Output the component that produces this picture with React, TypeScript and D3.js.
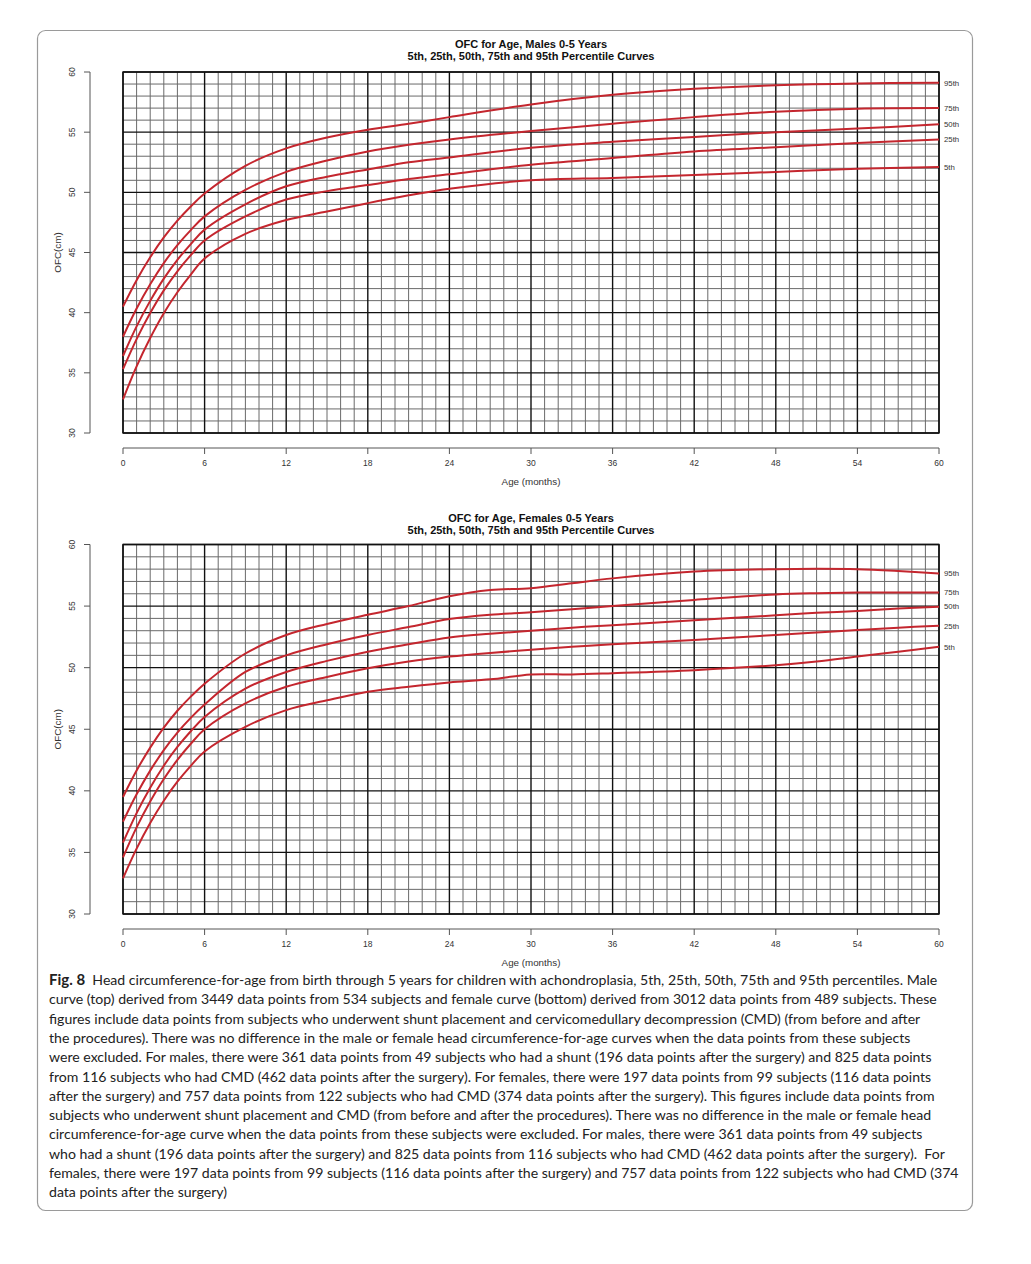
import React from "react";
import * as d3 from "d3";

// ---------- DATA ----------
const maleMonths = [0, 1, 2, 3, 4, 5, 6, 9, 12, 15, 18, 21, 24, 30, 36, 42, 48, 54, 60];
const maleP95 = [40.5, 42.7, 44.6, 46.25, 47.65, 48.85, 49.9, 52.2, 53.65, 54.55, 55.2, 55.7, 56.25, 57.3, 58.1, 58.6, 58.9, 59.05, 59.1];
const maleP75 = [38.0, 40.34, 42.36, 44.12, 45.61, 46.88, 48.0, 50.2, 51.7, 52.65, 53.4, 53.95, 54.4, 55.1, 55.7, 56.25, 56.7, 56.95, 57.0];
const maleP50 = [36.4, 38.86, 40.98, 42.83, 44.39, 45.72, 46.9, 49.0, 50.5, 51.3, 51.9, 52.5, 52.9, 53.7, 54.2, 54.6, 55.0, 55.3, 55.65];
const maleP25 = [35.3, 37.8, 39.97, 41.85, 43.44, 44.8, 46.0, 48.0, 49.4, 50.1, 50.6, 51.1, 51.5, 52.3, 52.85, 53.4, 53.75, 54.1, 54.4];
const maleP5 = [32.8, 35.54, 37.9, 39.96, 41.7, 43.19, 44.5, 46.55, 47.7, 48.4, 49.1, 49.75, 50.3, 51.0, 51.2, 51.45, 51.7, 51.95, 52.1];

const femaleMonths = [0, 1, 2, 3, 4, 5, 6, 9, 12, 15, 18, 21, 24, 27, 30, 33, 36, 42, 48, 51, 54, 57, 60];
const femaleP95 = [39.5, 41.65, 43.51, 45.13, 46.5, 47.67, 48.7, 51.15, 52.65, 53.55, 54.3, 55.0, 55.8, 56.3, 56.45, 56.85, 57.25, 57.8, 58.0, 58.03, 58.0, 57.85, 57.65];
const femaleP75 = [37.5, 39.72, 41.64, 43.31, 44.73, 45.94, 47.0, 49.65, 51.0, 51.9, 52.65, 53.3, 53.95, 54.3, 54.5, 54.75, 55.0, 55.5, 55.95, 56.05, 56.1, 56.1, 56.1];
const femaleP50 = [35.8, 38.19, 40.25, 42.04, 43.56, 44.86, 46.0, 48.3, 49.65, 50.55, 51.3, 51.9, 52.45, 52.75, 53.0, 53.25, 53.45, 53.85, 54.25, 54.45, 54.6, 54.8, 54.95];
const femaleP25 = [34.6, 37.03, 39.13, 40.96, 42.51, 43.84, 45.0, 47.1, 48.45, 49.25, 49.95, 50.5, 50.9, 51.2, 51.45, 51.7, 51.9, 52.25, 52.65, 52.85, 53.05, 53.25, 53.4];
const femaleP5 = [32.9, 35.31, 37.39, 39.2, 40.74, 42.05, 43.2, 45.2, 46.55, 47.35, 48.05, 48.45, 48.8, 49.05, 49.45, 49.45, 49.55, 49.8, 50.2, 50.5, 50.9, 51.3, 51.7];

const percentileLabels = ["95th", "75th", "50th", "25th", "5th"];
const xTicks = [0, 6, 12, 18, 24, 30, 36, 42, 48, 54, 60];
const yTicks = [30, 35, 40, 45, 50, 55, 60];

const maleTitle = ["OFC for Age, Males 0-5 Years", "5th, 25th, 50th, 75th and 95th Percentile Curves"];
const femaleTitle = ["OFC for Age, Females 0-5 Years", "5th, 25th, 50th, 75th and 95th Percentile Curves"];
const xAxisTitle = "Age (months)";
const yAxisTitle = "OFC(cm)";

const captionLines = [
  "Head circumference-for-age from birth through 5 years for children with achondroplasia, 5th, 25th, 50th, 75th and 95th percentiles. Male",
  "curve (top) derived from 3449 data points from 534 subjects and female curve (bottom) derived from 3012 data points from 489 subjects. These",
  "figures include data points from subjects who underwent shunt placement and cervicomedullary decompression (CMD) (from before and after",
  "the procedures). There was no difference in the male or female head circumference-for-age curves when the data points from these subjects",
  "were excluded. For males, there were 361 data points from 49 subjects who had a shunt (196 data points after the surgery) and 825 data points",
  "from 116 subjects who had CMD (462 data points after the surgery). For females, there were 197 data points from 99 subjects (116 data points",
  "after the surgery) and 757 data points from 122 subjects who had CMD (374 data points after the surgery). This figures include data points from",
  "subjects who underwent shunt placement and CMD (from before and after the procedures). There was no difference in the male or female head",
  "circumference-for-age curve when the data points from these subjects were excluded. For males, there were 361 data points from 49 subjects",
  "who had a shunt (196 data points after the surgery) and 825 data points from 116 subjects who had CMD (462 data points after the surgery).\u00a0 For",
  "females, there were 197 data points from 99 subjects (116 data points after the surgery) and 757 data points from 122 subjects who had CMD (374",
  "data points after the surgery)",
];
const figLabel = "Fig. 8";

// ---------- CHART ----------
const FONT = "'Liberation Sans', Arial, sans-serif";
const RED = "#c4262e";

type ChartProps = {
  title: string[];
  months: number[];
  series: number[][];
  top: number;
  bottom: number;
  titleY: number;
};

function Chart({ title, months, series, top, bottom, titleY }: ChartProps) {
  const left = 123;
  const right = 939;
  const x = d3.scaleLinear().domain([0, 60]).range([left, right]);
  const y = d3.scaleLinear().domain([30, 60]).range([bottom, top]);
  const line = d3
    .line<number>()
    .x((_, i) => x(months[i]))
    .y((d) => y(d))
    .curve(d3.curveCatmullRom.alpha(0.5));

  const vMinor = d3.range(0, 61).filter((m) => m % 6 !== 0);
  const vMajor = d3.range(0, 61, 6);
  const hMinor = d3.range(30, 61).filter((v) => v % 5 !== 0);
  const hMajor = d3.range(30, 61, 5);
  const axisY = bottom + 15;
  const axisX = 90;

  return (
    <g>
      <text x={(left + right) / 2} y={titleY} textAnchor="middle" fontFamily={FONT} fontWeight="bold" fontSize={11} fill="#111">
        {title[0]}
      </text>
      <text x={(left + right) / 2} y={titleY + 11.5} textAnchor="middle" fontFamily={FONT} fontWeight="bold" fontSize={11} fill="#111">
        {title[1]}
      </text>
      {/* grid */}
      {vMinor.map((m) => (
        <line key={"vm" + m} x1={x(m)} x2={x(m)} y1={top} y2={bottom} stroke="#6a6a6a" strokeWidth={1} />
      ))}
      {hMinor.map((v) => (
        <line key={"hm" + v} x1={left} x2={right} y1={y(v)} y2={y(v)} stroke="#6a6a6a" strokeWidth={1} />
      ))}
      {vMajor.map((m) => (
        <line key={"vM" + m} x1={x(m)} x2={x(m)} y1={top} y2={bottom} stroke="#111" strokeWidth={1.4} />
      ))}
      {hMajor.map((v) => (
        <line key={"hM" + v} x1={left} x2={right} y1={y(v)} y2={y(v)} stroke="#111" strokeWidth={1.4} />
      ))}
      <rect x={left} y={top} width={right - left} height={bottom - top} fill="none" stroke="#111" strokeWidth={1.4} />
      {/* curves */}
      {series.map((s, i) => (
        <path key={"c" + i} d={line(s) || ""} fill="none" stroke={RED} strokeWidth={2} />
      ))}
      {series.map((s, i) => (
        <text key={"l" + i} x={right + 5} y={y(s[s.length - 1]) + 2.8} fontFamily={FONT} fontSize={7.8} fill="#333">
          {percentileLabels[i]}
        </text>
      ))}
      {/* x axis */}
      <line x1={x(0)} x2={x(60)} y1={axisY} y2={axisY} stroke="#555" strokeWidth={1} />
      {xTicks.map((t) => (
        <g key={"xt" + t}>
          <line x1={x(t)} x2={x(t)} y1={axisY} y2={axisY + 6} stroke="#555" strokeWidth={1} />
          <text x={x(t)} y={axisY + 18} textAnchor="middle" fontFamily={FONT} fontSize={8.5} fill="#333">
            {t}
          </text>
        </g>
      ))}
      <text x={(left + right) / 2} y={axisY + 37} textAnchor="middle" fontFamily={FONT} fontSize={9.8} fill="#333">
        {xAxisTitle}
      </text>
      {/* y axis */}
      <line x1={axisX} x2={axisX} y1={y(30)} y2={y(60)} stroke="#555" strokeWidth={1} />
      {yTicks.map((t) => (
        <g key={"yt" + t}>
          <line x1={axisX - 6} x2={axisX} y1={y(t)} y2={y(t)} stroke="#555" strokeWidth={1} />
          <text transform={`translate(${axisX - 15},${y(t)}) rotate(-90)`} textAnchor="middle" fontFamily={FONT} fontSize={8.5} fill="#333">
            {t}
          </text>
        </g>
      ))}
      <text transform={`translate(61,${(top + bottom) / 2}) rotate(-90)`} textAnchor="middle" fontFamily={FONT} fontSize={9.8} fill="#333">
        {yAxisTitle}
      </text>
    </g>
  );
}

export default function App() {
  return (
    <svg width={1031} height={1264} style={{ position: "absolute", left: 0, top: 0, background: "#fff" }}>
      <rect x={0} y={0} width={1031} height={1264} fill="#fff" />
      <rect x={37.5} y={30.5} width={935} height={1180} rx={8} fill="none" stroke="#9a9a9a" strokeWidth={1.2} />
      <Chart
        title={maleTitle}
        months={maleMonths}
        series={[maleP95, maleP75, maleP50, maleP25, maleP5]}
        top={72}
        bottom={433}
        titleY={48}
      />
      <Chart
        title={femaleTitle}
        months={femaleMonths}
        series={[femaleP95, femaleP75, femaleP50, femaleP25, femaleP5]}
        top={544.5}
        bottom={914}
        titleY={522}
      />
      <g fontFamily="Lato, 'Open Sans', sans-serif" fontSize={14.1} fill="#222">
        {captionLines.map((ln, i) => (
          <text key={"cap" + i} x={49} y={985 + i * 19.3}>
            {i === 0 ? (
              <>
                <tspan fontWeight="bold" fontSize={15}>{figLabel}</tspan>
                <tspan>{"\u00a0 " + ln}</tspan>
              </>
            ) : (
              ln
            )}
          </text>
        ))}
      </g>
    </svg>
  );
}
